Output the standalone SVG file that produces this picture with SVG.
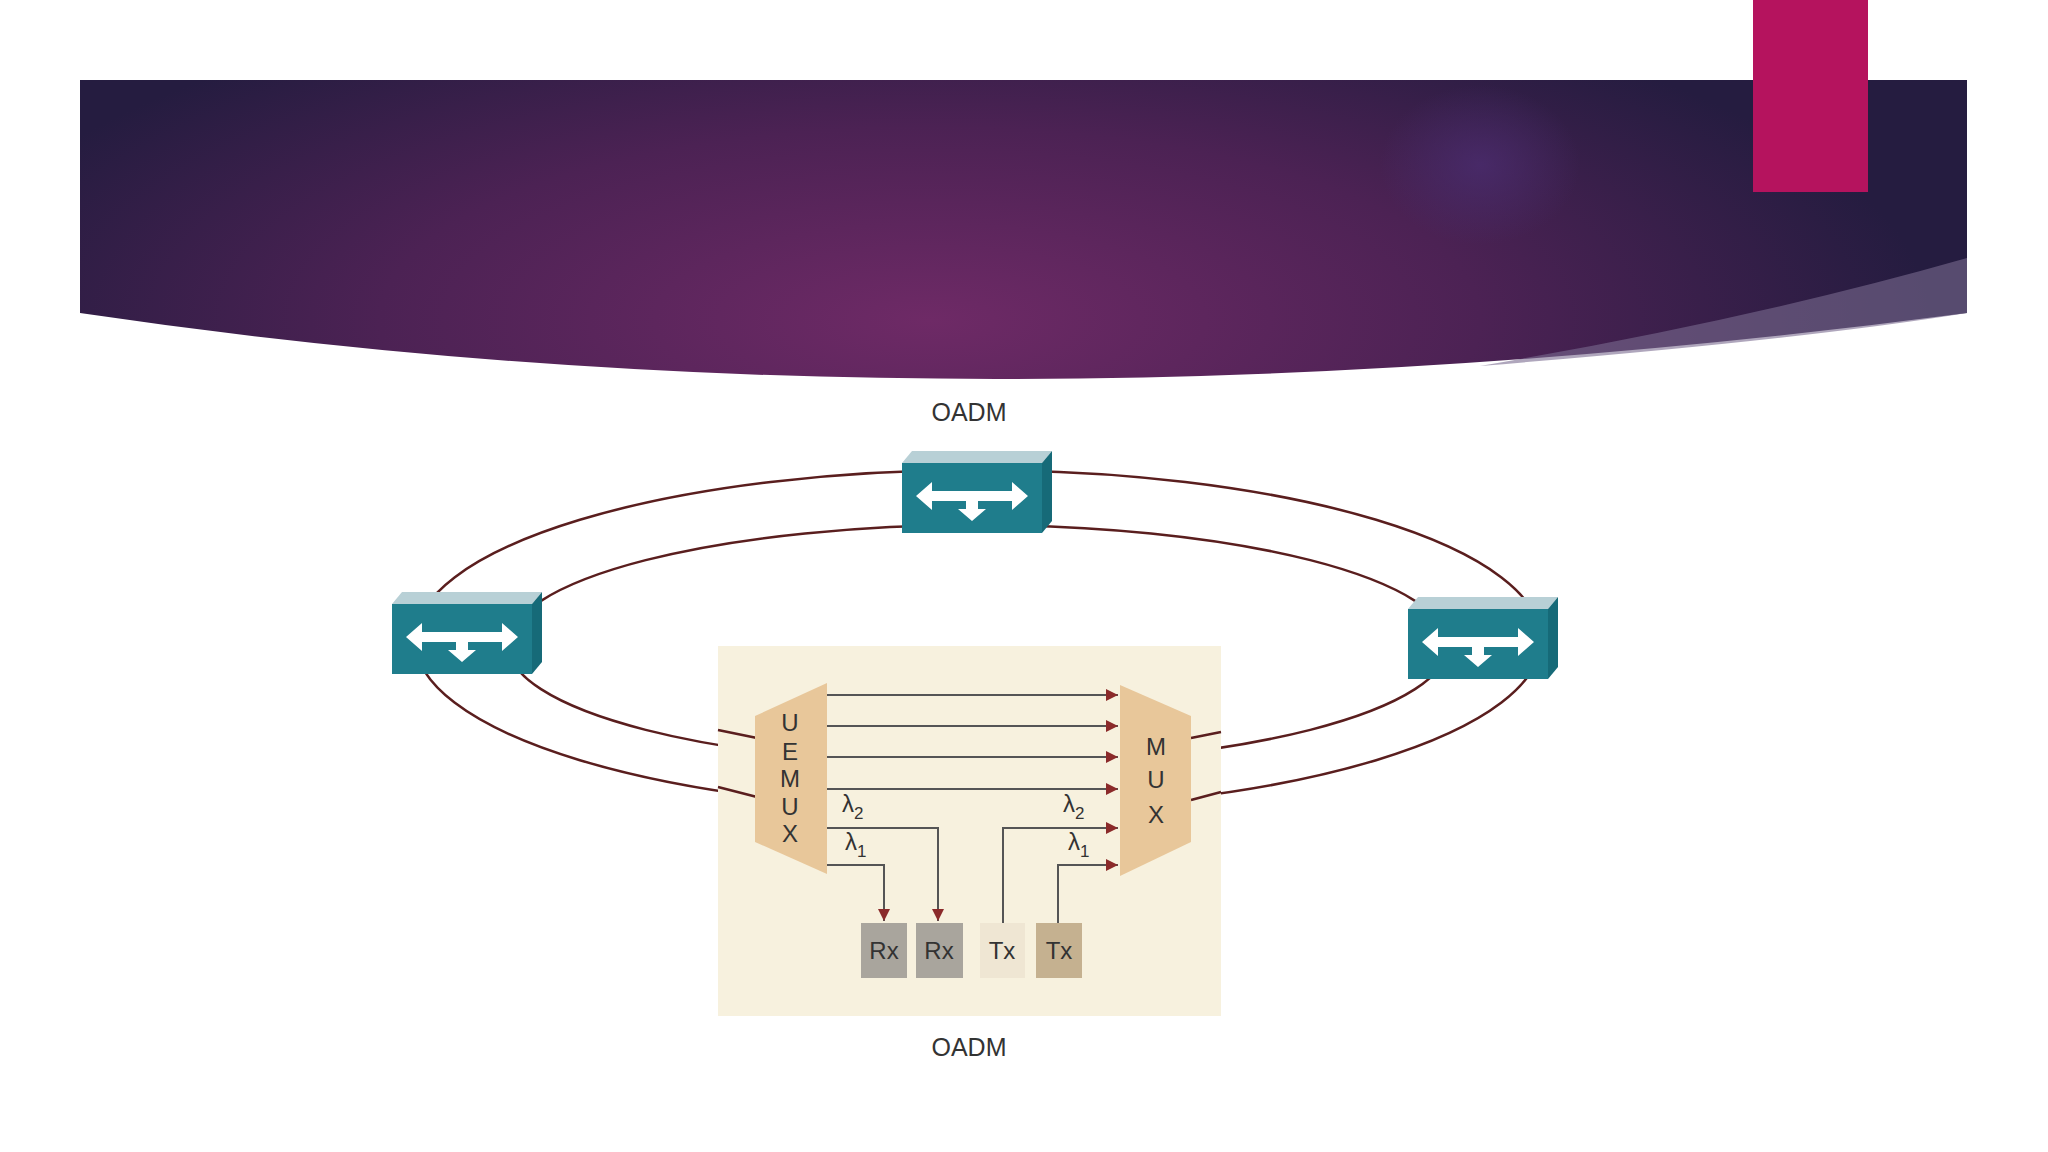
<svg xmlns="http://www.w3.org/2000/svg" width="2048" height="1152" viewBox="0 0 2048 1152">
<defs>
<radialGradient id="hg" gradientUnits="userSpaceOnUse" cx="930" cy="320" r="1000" gradientTransform="translate(930,320) scale(1,0.35) translate(-930,-320)">
<stop offset="0" stop-color="#6e2a66"/><stop offset="0.55" stop-color="#4c2254"/><stop offset="1" stop-color="#251c40"/>
</radialGradient>
<radialGradient id="glow"><stop offset="0" stop-color="#4a2c6e" stop-opacity="0.8"/><stop offset="1" stop-color="#4a2c6e" stop-opacity="0"/></radialGradient>
<marker id="ah" viewBox="0 0 10 10" refX="10" refY="5" markerWidth="6" markerHeight="6" orient="auto"><path d="M0,0 L10,5 L0,10 z" fill="#8b2a2a"/></marker>
<g id="oadm">
<path d="M0,12 L10,0 L150,0 L140,12 z" fill="#b8d0d6"/>
<path d="M140,12 L150,0 L150,70 L140,82 z" fill="#166a78"/>
<rect x="0" y="12" width="140" height="70" fill="#1f7d8c"/>
<path d="M14,45 L30,31 L30,40 L110,40 L110,31 L126,45 L110,59 L110,50 L76,50 L76,58 L84,58 L70,70 L56,58 L64,58 L64,50 L30,50 L30,59 z" fill="#fff"/>
</g>
</defs>
<style>
.t{font-family:"Liberation Sans",Arial,sans-serif;fill:#333}
.ring{fill:none;stroke:#5a1e1e;stroke-width:2.5}
.ln{fill:none;stroke:#555;stroke-width:2}
</style>
<rect width="2048" height="1152" fill="#fff"/>
<path d="M80,80 L1967,80 L1967,313 Q969,445 80,313 z" fill="url(#hg)"/>
<ellipse cx="1480" cy="165" rx="100" ry="80" fill="url(#glow)"/>
<path d="M1967,258 Q1750,320 1480,366 Q1800,340 1967,313 z" fill="#7a6a90" opacity="0.6"/>
<rect x="1753" y="0" width="115" height="192" fill="#b5135e"/>
<text class="t" x="969" y="421" font-size="25" text-anchor="middle">OADM</text>
<text class="t" x="969" y="1056" font-size="25" text-anchor="middle">OADM</text>
<g id="connectors">
<ellipse class="ring" cx="978" cy="640" rx="563" ry="170"/>
<ellipse class="ring" cx="978" cy="645" rx="470" ry="120"/>
</g>
<rect x="718" y="646" width="503" height="370" fill="#f7f1de"/>
<path class="ring" d="M718,787 L757,797 M718,730 L757,738 M1191,738 L1221,732 M1191,800 L1221,792"/>
<g id="node-top"><use href="#oadm" x="902" y="451"/></g>
<g id="node-left"><use href="#oadm" x="392" y="592"/></g>
<g id="node-right"><use href="#oadm" x="1408" y="597"/></g>
<g id="demux">
<path d="M755,716 L827,683 L827,874 L755,842 z" fill="#e8c79a"/>
<g class="t" font-size="24" text-anchor="middle"><text x="790" y="731">U</text><text x="790" y="760">E</text><text x="790" y="787">M</text><text x="790" y="815">U</text><text x="790" y="842">X</text></g>
</g>
<g id="mux">
<path d="M1120,685 L1191,716 L1191,842 L1120,876 z" fill="#e8c79a"/>
<g class="t" font-size="24" text-anchor="middle"><text x="1156" y="755">M</text><text x="1156" y="788">U</text><text x="1156" y="823">X</text></g>
</g>
<g id="rx1"><rect x="861" y="923" width="46" height="55" fill="#a9a59d"/><text class="t" x="884" y="946" dy="13" font-size="24" text-anchor="middle">Rx</text></g>
<g id="rx2"><rect x="916" y="923" width="47" height="55" fill="#a9a59d"/><text class="t" x="939" y="946" dy="13" font-size="24" text-anchor="middle">Rx</text></g>
<g id="tx1"><rect x="980" y="923" width="45" height="55" fill="#efe6d3"/><text class="t" x="1002" y="946" dy="13" font-size="24" text-anchor="middle">Tx</text></g>
<g id="tx2"><rect x="1036" y="923" width="46" height="55" fill="#c5b190"/><text class="t" x="1059" y="946" dy="13" font-size="24" text-anchor="middle">Tx</text></g>
<g id="inner-connectors">
<path class="ln" marker-end="url(#ah)" d="M827,695 L1118,695"/>
<path class="ln" marker-end="url(#ah)" d="M827,726 L1118,726"/>
<path class="ln" marker-end="url(#ah)" d="M827,757 L1118,757"/>
<path class="ln" marker-end="url(#ah)" d="M827,789 L1118,789"/>
<path class="ln" marker-end="url(#ah)" d="M827,828 L938,828 L938,921"/>
<path class="ln" marker-end="url(#ah)" d="M827,865 L884,865 L884,921"/>
<path class="ln" marker-end="url(#ah)" d="M1003,923 L1003,828 L1118,828"/>
<path class="ln" marker-end="url(#ah)" d="M1058,923 L1058,865 L1118,865"/>
</g>
<g class="t" font-size="24">
<text x="842" y="812">λ<tspan font-size="17" dy="7">2</tspan></text>
<text x="845" y="850">λ<tspan font-size="17" dy="7">1</tspan></text>
<text x="1063" y="812">λ<tspan font-size="17" dy="7">2</tspan></text>
<text x="1068" y="850">λ<tspan font-size="17" dy="7">1</tspan></text>
</g>
</svg>
